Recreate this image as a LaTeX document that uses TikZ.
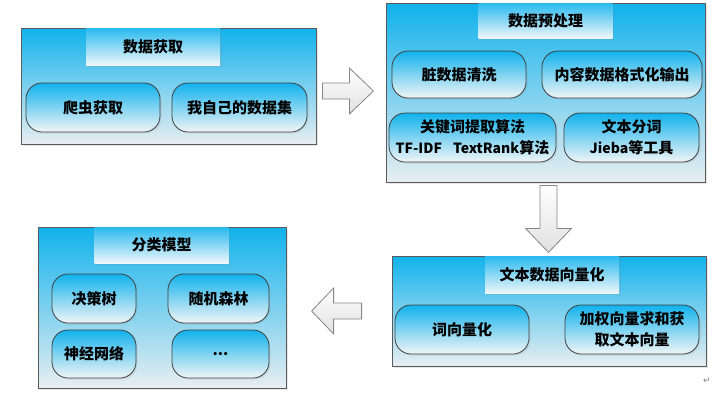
\documentclass[tikz,border=0pt]{standalone}
\usepackage{fontspec}
\usetikzlibrary{calc,shadows}
\newfontfamily\cjk{Noto Sans CJK SC}
\newfontfamily\symfont{DejaVu Sans}
\definecolor{skyTop}{HTML}{10B2EC}
\definecolor{skyBottom}{HTML}{E8EEF1}
\definecolor{tabBottom}{HTML}{EEF6FA}
\definecolor{frameGray}{HTML}{5A5A5A}
\definecolor{arrowGray}{HTML}{858585}

\begin{document}
\begin{tikzpicture}[x=1pt,y=-1pt,
  panel/.style={draw=frameGray,line width=0.8pt,top color=skyTop,bottom color=skyBottom,
    drop shadow={shadow xshift=2pt,shadow yshift=-2pt,opacity=0.18}},
  tab/.style={top color=skyTop!90,bottom color=tabBottom,minimum width=134pt,
    drop shadow={shadow xshift=1.5pt,shadow yshift=-1.5pt,opacity=0.15},font=\cjk\bfseries\fontsize{15}{18}\selectfont},
  item/.style={draw=black!75,line width=0.8pt,rounded corners=16pt,top color=skyTop,bottom color=skyBottom!60!white,
    minimum height=49pt,align=center,inner sep=2pt,
    drop shadow={shadow xshift=1.5pt,shadow yshift=-1.5pt,opacity=0.15},font=\cjk\bfseries\fontsize{15}{21}\selectfont},
  bigarrow/.style={draw=arrowGray,line width=0.8pt,top color=white,bottom color=black!12,line join=miter}]
  \useasboundingbox (0,0) rectangle (719,392);

  \node[panel,minimum width=295pt,minimum height=116pt] (acq) at (168.5,86) {};
  \node[tab,minimum height=37pt] (acqtitle) at (153,46.5) {数据获取};
  \node[item,minimum width=134pt] (crawl) at (93,107.5) {爬虫获取};
  \node[item,minimum width=135pt] (own) at (239.5,107.5) {我自己的数据集};

  \node[panel,minimum width=319pt,minimum height=179pt] (pre) at (545.5,92.5) {};
  \node[tab,minimum height=35pt] (pretitle) at (545.5,20.5) {数据预处理};
  \node[item,minimum width=134pt,minimum height=47pt] (clean) at (459,74.5) {脏数据清洗};
  \node[item,minimum width=160pt,minimum height=47pt] (format) at (622,74.5) {内容数据格式化输出};
  \node[item,minimum width=167pt] (keyword) at (472.5,137.5)
    {关键词提取算法\\{\fontsize{14}{21}\selectfont TF-IDF\hspace{11pt}TextRank}算法};
  \node[item,minimum width=135pt] (seg) at (631.5,137.5) {文本分词\\{\fontsize{14}{21}\selectfont Jieba}等工具};

  \node[panel,minimum width=314pt,minimum height=110pt] (vec) at (549,311) {};
  \node[tab,minimum height=37pt] (vectitle) at (552,274.5) {文本数据向量化};
  \node[item,minimum width=134pt] (wordvec) at (462,329.5) {词向量化};
  \node[item,minimum width=134pt] (docvec) at (632,329.5) {加权向量求和获\\取文本向量};

  \node[panel,minimum width=248pt,minimum height=161pt] (model) at (162,307.5) {};
  \node[tab,minimum height=36pt] (modeltitle) at (161.5,245) {分类模型};
  \node[item,minimum width=84pt] (tree) at (94,298.5) {决策树};
  \node[item,minimum width=101pt] (forest) at (218.5,298.5) {随机森林};
  \node[item,minimum width=84pt,minimum height=48pt] (nn) at (94,354) {神经网络};
  \node[item,minimum width=97pt,minimum height=48pt] (more) at (220.5,354) {...};

  \draw[bigarrow] ($(acq.east)+(6,-3)$) -- ++(27,0) -- ++(0,-15) -- ++(24,23) -- ++(-24,23) -- ++(0,-15) -- ++(-27,0) -- cycle;
  \draw[bigarrow] ($(pre.south)+(-5.5,3)$) -- ++(17,0) -- ++(0,43) -- ++(14.5,0) -- ++(-23,24) -- ++(-23,-24) -- ++(14.5,0) -- cycle;
  \draw[bigarrow] ($(vec.west)+(-30,-8)$) -- ++(-28,0) -- ++(0,-15) -- ++(-22,23) -- ++(22,23) -- ++(0,-15) -- ++(28,0) -- cycle;

  \node[font=\symfont\fontsize{9}{9}\selectfont,text=gray] (mark) at (707,381) {↵};
\end{tikzpicture}
\end{document}
